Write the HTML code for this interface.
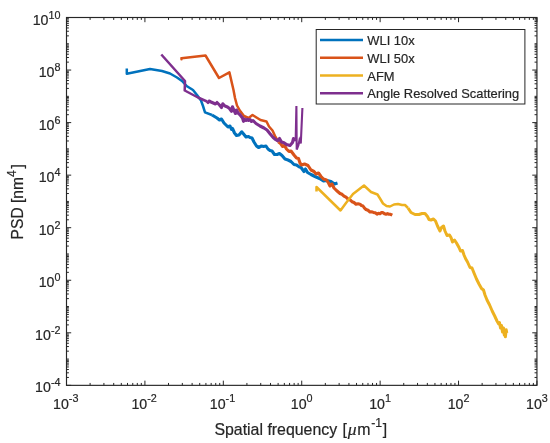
<!DOCTYPE html>
<html><head><meta charset="utf-8"><title>PSD</title>
<style>html,body{margin:0;padding:0;background:#fff}svg{display:block}text{font-family:"Liberation Sans",Arial,Helvetica,sans-serif;fill:#262626;stroke:#262626;stroke-width:0.2px}</style></head><body>
<svg width="550" height="443" viewBox="0 0 550 443">
<rect width="550" height="443" fill="#fff"/>
<path d="M66.50 385.35v-4.7M66.50 17.5v4.7M90.10 385.35v-2.4M90.10 17.5v2.4M103.91 385.35v-2.4M103.91 17.5v2.4M113.71 385.35v-2.4M113.71 17.5v2.4M121.31 385.35v-2.4M121.31 17.5v2.4M127.51 385.35v-2.4M127.51 17.5v2.4M132.76 385.35v-2.4M132.76 17.5v2.4M137.31 385.35v-2.4M137.31 17.5v2.4M141.32 385.35v-2.4M141.32 17.5v2.4M144.91 385.35v-4.7M144.91 17.5v4.7M168.51 385.35v-2.4M168.51 17.5v2.4M182.32 385.35v-2.4M182.32 17.5v2.4M192.11 385.35v-2.4M192.11 17.5v2.4M199.71 385.35v-2.4M199.71 17.5v2.4M205.92 385.35v-2.4M205.92 17.5v2.4M211.17 385.35v-2.4M211.17 17.5v2.4M215.72 385.35v-2.4M215.72 17.5v2.4M219.73 385.35v-2.4M219.73 17.5v2.4M223.32 385.35v-4.7M223.32 17.5v4.7M246.92 385.35v-2.4M246.92 17.5v2.4M260.73 385.35v-2.4M260.73 17.5v2.4M270.52 385.35v-2.4M270.52 17.5v2.4M278.12 385.35v-2.4M278.12 17.5v2.4M284.33 385.35v-2.4M284.33 17.5v2.4M289.58 385.35v-2.4M289.58 17.5v2.4M294.13 385.35v-2.4M294.13 17.5v2.4M298.14 385.35v-2.4M298.14 17.5v2.4M301.73 385.35v-4.7M301.73 17.5v4.7M325.33 385.35v-2.4M325.33 17.5v2.4M339.14 385.35v-2.4M339.14 17.5v2.4M348.93 385.35v-2.4M348.93 17.5v2.4M356.53 385.35v-2.4M356.53 17.5v2.4M362.74 385.35v-2.4M362.74 17.5v2.4M367.99 385.35v-2.4M367.99 17.5v2.4M372.53 385.35v-2.4M372.53 17.5v2.4M376.55 385.35v-2.4M376.55 17.5v2.4M380.13 385.35v-4.7M380.13 17.5v4.7M403.74 385.35v-2.4M403.74 17.5v2.4M417.54 385.35v-2.4M417.54 17.5v2.4M427.34 385.35v-2.4M427.34 17.5v2.4M434.94 385.35v-2.4M434.94 17.5v2.4M441.15 385.35v-2.4M441.15 17.5v2.4M446.40 385.35v-2.4M446.40 17.5v2.4M450.94 385.35v-2.4M450.94 17.5v2.4M454.95 385.35v-2.4M454.95 17.5v2.4M458.54 385.35v-4.7M458.54 17.5v4.7M482.14 385.35v-2.4M482.14 17.5v2.4M495.95 385.35v-2.4M495.95 17.5v2.4M505.75 385.35v-2.4M505.75 17.5v2.4M513.35 385.35v-2.4M513.35 17.5v2.4M519.56 385.35v-2.4M519.56 17.5v2.4M524.80 385.35v-2.4M524.80 17.5v2.4M529.35 385.35v-2.4M529.35 17.5v2.4M533.36 385.35v-2.4M533.36 17.5v2.4M536.95 385.35v-4.7M536.95 17.5v4.7M66.5 385.35h4.7M536.95 385.35h-4.7M66.5 377.44h2.4M536.95 377.44h-2.4M66.5 372.81h2.4M536.95 372.81h-2.4M66.5 369.53h2.4M536.95 369.53h-2.4M66.5 366.98h2.4M536.95 366.98h-2.4M66.5 364.90h2.4M536.95 364.90h-2.4M66.5 363.15h2.4M536.95 363.15h-2.4M66.5 361.62h2.4M536.95 361.62h-2.4M66.5 360.28h2.4M536.95 360.28h-2.4M66.5 359.07h2.4M536.95 359.07h-2.4M66.5 351.17h2.4M536.95 351.17h-2.4M66.5 346.54h2.4M536.95 346.54h-2.4M66.5 343.26h2.4M536.95 343.26h-2.4M66.5 340.71h2.4M536.95 340.71h-2.4M66.5 338.63h2.4M536.95 338.63h-2.4M66.5 336.87h2.4M536.95 336.87h-2.4M66.5 335.35h2.4M536.95 335.35h-2.4M66.5 334.00h2.4M536.95 334.00h-2.4M66.5 332.80h4.7M536.95 332.80h-4.7M66.5 324.89h2.4M536.95 324.89h-2.4M66.5 320.26h2.4M536.95 320.26h-2.4M66.5 316.98h2.4M536.95 316.98h-2.4M66.5 314.43h2.4M536.95 314.43h-2.4M66.5 312.35h2.4M536.95 312.35h-2.4M66.5 310.60h2.4M536.95 310.60h-2.4M66.5 309.07h2.4M536.95 309.07h-2.4M66.5 307.73h2.4M536.95 307.73h-2.4M66.5 306.53h2.4M536.95 306.53h-2.4M66.5 298.62h2.4M536.95 298.62h-2.4M66.5 293.99h2.4M536.95 293.99h-2.4M66.5 290.71h2.4M536.95 290.71h-2.4M66.5 288.16h2.4M536.95 288.16h-2.4M66.5 286.08h2.4M536.95 286.08h-2.4M66.5 284.32h2.4M536.95 284.32h-2.4M66.5 282.80h2.4M536.95 282.80h-2.4M66.5 281.45h2.4M536.95 281.45h-2.4M66.5 280.25h4.7M536.95 280.25h-4.7M66.5 272.34h2.4M536.95 272.34h-2.4M66.5 267.71h2.4M536.95 267.71h-2.4M66.5 264.43h2.4M536.95 264.43h-2.4M66.5 261.88h2.4M536.95 261.88h-2.4M66.5 259.80h2.4M536.95 259.80h-2.4M66.5 258.05h2.4M536.95 258.05h-2.4M66.5 256.52h2.4M536.95 256.52h-2.4M66.5 255.18h2.4M536.95 255.18h-2.4M66.5 253.97h2.4M536.95 253.97h-2.4M66.5 246.07h2.4M536.95 246.07h-2.4M66.5 241.44h2.4M536.95 241.44h-2.4M66.5 238.16h2.4M536.95 238.16h-2.4M66.5 235.61h2.4M536.95 235.61h-2.4M66.5 233.53h2.4M536.95 233.53h-2.4M66.5 231.77h2.4M536.95 231.77h-2.4M66.5 230.25h2.4M536.95 230.25h-2.4M66.5 228.90h2.4M536.95 228.90h-2.4M66.5 227.70h4.7M536.95 227.70h-4.7M66.5 219.79h2.4M536.95 219.79h-2.4M66.5 215.16h2.4M536.95 215.16h-2.4M66.5 211.88h2.4M536.95 211.88h-2.4M66.5 209.33h2.4M536.95 209.33h-2.4M66.5 207.25h2.4M536.95 207.25h-2.4M66.5 205.50h2.4M536.95 205.50h-2.4M66.5 203.97h2.4M536.95 203.97h-2.4M66.5 202.63h2.4M536.95 202.63h-2.4M66.5 201.43h2.4M536.95 201.43h-2.4M66.5 193.52h2.4M536.95 193.52h-2.4M66.5 188.89h2.4M536.95 188.89h-2.4M66.5 185.61h2.4M536.95 185.61h-2.4M66.5 183.06h2.4M536.95 183.06h-2.4M66.5 180.98h2.4M536.95 180.98h-2.4M66.5 179.22h2.4M536.95 179.22h-2.4M66.5 177.70h2.4M536.95 177.70h-2.4M66.5 176.35h2.4M536.95 176.35h-2.4M66.5 175.15h4.7M536.95 175.15h-4.7M66.5 167.24h2.4M536.95 167.24h-2.4M66.5 162.61h2.4M536.95 162.61h-2.4M66.5 159.33h2.4M536.95 159.33h-2.4M66.5 156.78h2.4M536.95 156.78h-2.4M66.5 154.70h2.4M536.95 154.70h-2.4M66.5 152.95h2.4M536.95 152.95h-2.4M66.5 151.42h2.4M536.95 151.42h-2.4M66.5 150.08h2.4M536.95 150.08h-2.4M66.5 148.88h2.4M536.95 148.88h-2.4M66.5 140.97h2.4M536.95 140.97h-2.4M66.5 136.34h2.4M536.95 136.34h-2.4M66.5 133.06h2.4M536.95 133.06h-2.4M66.5 130.51h2.4M536.95 130.51h-2.4M66.5 128.43h2.4M536.95 128.43h-2.4M66.5 126.67h2.4M536.95 126.67h-2.4M66.5 125.15h2.4M536.95 125.15h-2.4M66.5 123.80h2.4M536.95 123.80h-2.4M66.5 122.60h4.7M536.95 122.60h-4.7M66.5 114.69h2.4M536.95 114.69h-2.4M66.5 110.06h2.4M536.95 110.06h-2.4M66.5 106.78h2.4M536.95 106.78h-2.4M66.5 104.23h2.4M536.95 104.23h-2.4M66.5 102.15h2.4M536.95 102.15h-2.4M66.5 100.40h2.4M536.95 100.40h-2.4M66.5 98.87h2.4M536.95 98.87h-2.4M66.5 97.53h2.4M536.95 97.53h-2.4M66.5 96.33h2.4M536.95 96.33h-2.4M66.5 88.42h2.4M536.95 88.42h-2.4M66.5 83.79h2.4M536.95 83.79h-2.4M66.5 80.51h2.4M536.95 80.51h-2.4M66.5 77.96h2.4M536.95 77.96h-2.4M66.5 75.88h2.4M536.95 75.88h-2.4M66.5 74.12h2.4M536.95 74.12h-2.4M66.5 72.60h2.4M536.95 72.60h-2.4M66.5 71.25h2.4M536.95 71.25h-2.4M66.5 70.05h4.7M536.95 70.05h-4.7M66.5 62.14h2.4M536.95 62.14h-2.4M66.5 57.51h2.4M536.95 57.51h-2.4M66.5 54.23h2.4M536.95 54.23h-2.4M66.5 51.68h2.4M536.95 51.68h-2.4M66.5 49.60h2.4M536.95 49.60h-2.4M66.5 47.85h2.4M536.95 47.85h-2.4M66.5 46.32h2.4M536.95 46.32h-2.4M66.5 44.98h2.4M536.95 44.98h-2.4M66.5 43.78h2.4M536.95 43.78h-2.4M66.5 35.87h2.4M536.95 35.87h-2.4M66.5 31.24h2.4M536.95 31.24h-2.4M66.5 27.96h2.4M536.95 27.96h-2.4M66.5 25.41h2.4M536.95 25.41h-2.4M66.5 23.33h2.4M536.95 23.33h-2.4M66.5 21.57h2.4M536.95 21.57h-2.4M66.5 20.05h2.4M536.95 20.05h-2.4M66.5 18.70h2.4M536.95 18.70h-2.4M66.5 17.50h4.7M536.95 17.50h-4.7" stroke="#262626" stroke-width="1" fill="none"/>
<g fill="none" stroke-width="2.5" stroke-linejoin="round" stroke-linecap="butt">
<path stroke="#0072BD" d="M126.8 68.5L126.8 73.8L150 69L162 71L170 73.5L177 77.5L182 81L187 86.3L193 90L197 95L201 100.5L203 106L205 112.3L212 115"/>
<path stroke="#0072BD" stroke-width="3.1" d="M212 115L217 118L219.5 120L221.5 119L224 123L228 127L230 126L231.5 129.5L232.5 128.5L234.5 133L236.5 135.5L239 135L241.7 131.8L244 134.5L246 137L248.5 136.5L250 137.5L252 138L254 142L256.5 146L258.5 147.5L261.5 146L263.5 146.5L266 146L268 149L270 150.5L272 151L274.5 154.5L277 154.5L279.5 153.5L282 155.5L285 159L288 160L291 161.5L294 164.5L296.5 165L299 166.8L301 167.5L304 171.5L305.5 169L307.5 172.5L311 174.5L315 176.5L319.5 178.5L323.5 181L327 180.5L331 181.5L334.5 184L337.5 183"/>
<path stroke="#D95319" d="M181.5 57.2L181.5 59.2L181.5 58.2L205.5 55.5L219 78L229.4 72.4L233.5 90L235 98L237 105.5L240 110.8L244 116L248.5 118L252.5 115L256.5 117.5L260.5 120L266.5 121.5L269 126.5L272.5 130.5L275.5 137L278.5 142"/>
<path stroke="#D95319" stroke-width="3.1" d="M278.5 142L280.5 143.5L282.5 146.5L284.5 145.5L286.5 149L289 151.5L291 151L294 155L296.5 158L298.5 158.5L300 163L301.5 165L304.5 164L308 165.5L311 170L314 171.5L316 174L318.5 173L321 176.5L323.5 179L326.5 180L328.5 183L330 186L332 184L334 188L336.5 190.5L340 193.5L342 194.3L344 196.2L346 197.2L348 199L350 199.8L352 201.7L354 202.5L356 204.2L358 203.8L360 204.2L361.5 205.6L363 206L364.5 208.2L366 209.5L368 210.3L370 212L372 211.8L374 212.7L375.5 212.8L377 214.2L378.5 213.3L380 213.7L381.5 212.6L383 212.6L384.5 213.8L386 214.2L387.5 213.6L389 214.2L390.5 214.3L392.3 215.2"/>
<path stroke="#EDB120" d="M316.5 191.5L316.5 187L340.5 210.5L346 203L353 194L364 185.5L371 192L377.5 194.5L380 198.5L383 203.5L386.5 206L390 206.5L394 204.5L398 204L402 205L405 205L408 208"/>
<path stroke="#EDB120" stroke-width="3.0" d="M408 208L411 212.5L415 214.5L419 214.5L422 213.5L425 213.5L427.5 216.5L429 219.5L431 220L433.5 219L435.5 221L437.5 226L440 231L441.5 227.5L443.5 226L445 231L447 235.5L449.5 235L451 237.5L452.5 242L454.5 240L456.5 243L459 247.5L460.5 251L462.5 250.5L464 255L465.5 258.5L467.5 262L470 267.5L472 268L474 273L476.5 279L479 284L481.5 288.5L483.5 290L485 295L487 300L489.6 305L492.2 311L494.7 316L497 321L498.7 324L499.5 322.5L500.5 328L501.5 325.5L502.5 332L503.5 328L504.3 335L505 331L505.4 336.8L506.2 329.8L506.8 333"/>
<path stroke="#7E2F8E" d="M161.3 54.5L185 81L184.7 90.5L198 97.5L207 101.5"/>
<path stroke="#7E2F8E" stroke-width="3.1" d="M207 101.5L208 102.5L209 101L211 102L215.5 104L217 102.5L219.5 105L221.5 107.5L222.8 103.8L225 106L227.5 107L229.5 108.5L231.5 111.3L232.5 106.7L234 110.5L235.5 113.5L236.5 110L238 113L240 114.7L242.5 118L243.5 121.3L244.5 119L246 120.5L247.5 119.3L248.5 120.5L250 119.5L251.5 121.5L253 120.5L256 123.5L260 126L264 128L267 130L270 133.7L273 137.3L275.5 139.5L277.5 140.7L279.5 138.5L281.5 142L284 142.7L286.5 144.5L290 145.5L292.5 142.5L293.5 138.5L295 139.8L295.7 139"/>
<path stroke="#7E2F8E" stroke-width="2.1" stroke-linejoin="miter" d="M295.7 139L296.4 106L296.7 149.5L297.5 147.5L298.5 145L299.5 140L300.8 143.5L302.4 108"/>
</g>
<rect x="66.5" y="17.5" width="470.45" height="367.85" fill="none" stroke="#262626" stroke-width="1.15"/>
<text x="65.70" y="409.00" font-size="14.2" text-anchor="middle">10<tspan font-size="10.8" dy="-6.9">-3</tspan></text>
<text x="144.11" y="409.00" font-size="14.2" text-anchor="middle">10<tspan font-size="10.8" dy="-6.9">-2</tspan></text>
<text x="222.52" y="409.00" font-size="14.2" text-anchor="middle">10<tspan font-size="10.8" dy="-6.9">-1</tspan></text>
<text x="301.73" y="409.00" font-size="14.2" text-anchor="middle">10<tspan font-size="10.8" dy="-6.9">0</tspan></text>
<text x="380.13" y="409.00" font-size="14.2" text-anchor="middle">10<tspan font-size="10.8" dy="-6.9">1</tspan></text>
<text x="458.54" y="409.00" font-size="14.2" text-anchor="middle">10<tspan font-size="10.8" dy="-6.9">2</tspan></text>
<text x="536.95" y="409.00" font-size="14.2" text-anchor="middle">10<tspan font-size="10.8" dy="-6.9">3</tspan></text>
<text x="60.50" y="392.45" font-size="14.2" text-anchor="end">10<tspan font-size="10.8" dy="-6.1">-4</tspan></text>
<text x="60.50" y="339.90" font-size="14.2" text-anchor="end">10<tspan font-size="10.8" dy="-6.1">-2</tspan></text>
<text x="60.50" y="287.35" font-size="14.2" text-anchor="end">10<tspan font-size="10.8" dy="-6.1">0</tspan></text>
<text x="60.50" y="234.80" font-size="14.2" text-anchor="end">10<tspan font-size="10.8" dy="-6.1">2</tspan></text>
<text x="60.50" y="182.25" font-size="14.2" text-anchor="end">10<tspan font-size="10.8" dy="-6.1">4</tspan></text>
<text x="60.50" y="129.70" font-size="14.2" text-anchor="end">10<tspan font-size="10.8" dy="-6.1">6</tspan></text>
<text x="60.50" y="77.15" font-size="14.2" text-anchor="end">10<tspan font-size="10.8" dy="-6.1">8</tspan></text>
<text x="60.50" y="24.60" font-size="14.2" text-anchor="end">10<tspan font-size="10.8" dy="-6.1">10</tspan></text>
<text x="214.4" y="434.6" font-size="15.9" text-anchor="start">Spatial frequency <tspan dx="0.8">[</tspan><tspan font-family="'Liberation Serif',serif" font-style="italic" font-size="17.6" dx="1">μ</tspan><tspan dx="0.6">m</tspan><tspan font-size="12.2" dy="-7.4" dx="0.7">-1</tspan><tspan dy="7.4" dx="0.6">]</tspan></text>
<text transform="translate(23.3 239.4) rotate(-90)" font-size="15.6" text-anchor="start">PSD [nm<tspan font-size="12.2" dy="-7.4">4</tspan><tspan dy="7.4" dx="1.8">]</tspan></text>
<rect x="316.2" y="29.5" width="208.7" height="74.5" fill="#fff" stroke="#262626" stroke-width="1"/>
<path d="M320 40.00H363" stroke="#0072BD" stroke-width="2.4" fill="none"/>
<text x="367.3" y="45.00" font-size="12.9" fill="#000">WLI 10x</text>
<path d="M320 57.75H363" stroke="#D95319" stroke-width="2.4" fill="none"/>
<text x="367.3" y="62.75" font-size="12.9" fill="#000">WLI 50x</text>
<path d="M320 75.50H363" stroke="#EDB120" stroke-width="2.4" fill="none"/>
<text x="367.3" y="80.50" font-size="12.9" fill="#000">AFM</text>
<path d="M320 93.25H363" stroke="#7E2F8E" stroke-width="2.4" fill="none"/>
<text x="367.3" y="98.25" font-size="12.9" fill="#000">Angle Resolved Scattering</text>
</svg></body></html>
